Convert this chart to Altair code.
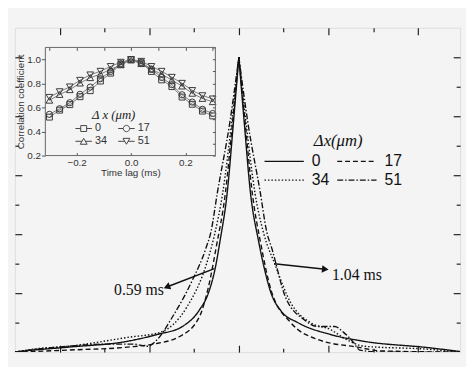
import altair as alt
import pandas as pd

# ---------------- main curves (time lag in ms, normalised value) ----------------
series_names = ["0", "17", "34", "51"]

x0 = [-2.5, -2.42, -1.9, -1.24, -0.91, -0.63, -0.44, -0.34, -0.26, -0.21, -0.13, -0.06, 0.0,
      0.06, 0.13, 0.22, 0.28, 0.36, 0.47, 0.66, 1.02, 1.39, 2.12, 2.47]
y0 = [0.0, 0.003, 0.017, 0.037, 0.06, 0.087, 0.143, 0.2, 0.29, 0.377, 0.54, 0.78, 1.0,
      0.78, 0.54, 0.377, 0.29, 0.2, 0.14, 0.1, 0.06, 0.037, 0.015, 0.002]

x17 = [-2.5, -1.9, -1.24, -0.96, -0.66, -0.44, -0.34, -0.25, -0.15, -0.07, 0.0,
       0.07, 0.15, 0.25, 0.36, 0.58, 0.88, 1.32, 1.6, 2.47]
y17 = [0.0, 0.007, 0.017, 0.027, 0.053, 0.12, 0.22, 0.36, 0.54, 0.78, 1.0,
       0.78, 0.54, 0.36, 0.21, 0.1, 0.043, 0.017, 0.004, 0.0]

x34 = [-2.5, -2.3, -1.9, -1.24, -0.88, -0.58, -0.36, -0.27, -0.18, -0.08, 0.0,
       0.08, 0.18, 0.28, 0.4, 0.58, 0.8, 1.02, 1.2, 1.4, 2.1, 2.47]
y34 = [0.0, 0.01, 0.02, 0.05, 0.067, 0.153, 0.3, 0.40, 0.54, 0.78, 1.0,
       0.78, 0.54, 0.40, 0.3, 0.167, 0.1, 0.077, 0.043, 0.02, 0.01, 0.0]

x51 = [-2.5, -2.34, -1.9, -1.54, -1.18, -1.02, -0.91, -0.74, -0.52, -0.37, -0.31, -0.24, -0.1, 0.0,
       0.1, 0.24, 0.31, 0.37, 0.52, 0.73, 0.88, 1.07, 1.17, 1.28, 1.35, 1.6, 2.47]
y51 = [0.0, 0.007, 0.02, 0.027, 0.027, 0.02, 0.043, 0.12, 0.243, 0.35, 0.41, 0.54, 0.78, 1.0,
       0.78, 0.54, 0.41, 0.35, 0.187, 0.11, 0.087, 0.087, 0.067, 0.033, 0.007, 0.0, 0.0]

dash_styles = [[1, 0], [5, 3], [1.5, 2], [6, 2, 1.5, 2]]

X_DOMAIN = [-2.5, 2.47]
Y_DOMAIN = [0, 1.1]
x_major = [-2, -1, 0, 1, 2]
x_minor = [-1.5, -0.5, 0.5, 1.5]
y_major = [0.2, 0.4, 0.6, 0.8, 1.0]
y_minor = [0.1, 0.3, 0.5, 0.7, 0.9]

# annotations
label_text = ["0.59 ms", "1.04 ms"]
label_x = [-1.115, 1.318]
label_y = [0.212, 0.26]
arrow_x = [-0.273, 0.396]
arrow_y = [0.283, 0.30]
arrow_x2 = [-0.804, 0.965]
arrow_y2 = [0.221, 0.281]
arrow_angle = [249, 96]

# ---------------- inset data ----------------
inset_t = [-0.3, -0.2625, -0.225, -0.1875, -0.15, -0.1125, -0.075, -0.0375, 0.0,
           0.0375, 0.075, 0.1125, 0.15, 0.1875, 0.225, 0.2625, 0.3]
c0 = [0.52, 0.578, 0.624, 0.69, 0.74, 0.82, 0.886, 0.96, 1.0, 0.97, 0.90, 0.83, 0.774, 0.687, 0.627, 0.57, 0.53]
c17 = [0.543, 0.59, 0.64, 0.71, 0.77, 0.84, 0.90, 0.965, 1.0, 0.975, 0.92, 0.85, 0.79, 0.706, 0.645, 0.585, 0.55]
c34 = [0.66, 0.708, 0.748, 0.803, 0.848, 0.878, 0.918, 0.955, 0.995, 0.965, 0.918, 0.878, 0.828, 0.778, 0.718, 0.675, 0.648]
c51 = [0.685, 0.732, 0.772, 0.827, 0.872, 0.902, 0.942, 0.977, 1.0, 0.985, 0.942, 0.902, 0.852, 0.802, 0.742, 0.699, 0.672]
inset_shapes = ["square", "circle", "triangle-up", "triangle-down"]
inset_sizes = [36, 40, 46, 46]
IX_DOMAIN = [-0.315, 0.31]
IY_DOMAIN = [0.2, 1.1]
ix_ticks = [-0.3, -0.2, -0.1, 0.0, 0.1, 0.2, 0.3]
ix_labels = [-0.2, 0.0, 0.2]
iy_labels = [0.2, 0.4, 0.6, 0.8, 1.0]
iy_ticks = [0.2, 0.3, 0.4, 0.5, 0.6, 0.7, 0.8, 0.9, 1.0, 1.1]

legend_paths = [
    "M-2.1,0L-0.75,0M0.75,0L2.1,0M-0.75,-0.75L0.75,-0.75L0.75,0.75L-0.75,0.75Z",
    "M-2.1,0L-0.8,0M0.8,0L2.1,0M0.8,0A0.8,0.8,0,1,1,-0.8,0A0.8,0.8,0,1,1,0.8,0Z",
    "M-2.1,0L-0.45,0M0.45,0L2.1,0M-0.875,0.75L0,-0.75L0.875,0.75Z",
    "M-2.1,0L-0.45,0M0.45,0L2.1,0M-0.875,-0.75L0.875,-0.75L0,0.75Z",
]

# ---------------- tables ----------------
rows = []
for name, xs_, ys_ in zip(series_names, [x0, x17, x34, x51], [y0, y17, y34, y51]):
    for i, (a, b) in enumerate(zip(xs_, ys_)):
        # each curve drawn as two monotone halves meeting at the sharp peak
        if a <= 0:
            rows.append({"series": name, "side": "L", "t": a, "r": b, "order": i})
        if a >= 0:
            rows.append({"series": name, "side": "R", "t": a, "r": b, "order": i})
main_df = pd.DataFrame(rows)

arrow_df = pd.DataFrame({"x": arrow_x, "y": arrow_y, "x2": arrow_x2, "y2": arrow_y2, "angle": arrow_angle})
label_df = pd.DataFrame({"label": label_text, "x": label_x, "y": label_y})

irows = []
for name, vals in zip(series_names, [c0, c17, c34, c51]):
    for t, v in zip(inset_t, vals):
        irows.append({"series": name, "t": t, "r": v})
inset_df = pd.DataFrame(irows)
frame_df = pd.DataFrame({"x": [IX_DOMAIN[0]], "x2": [IX_DOMAIN[1]], "y": [IY_DOMAIN[0]], "y2": [IY_DOMAIN[1]]})

W, H = 453, 330
INK = "#111111"


def tick_axis(orient, values, size):
    return alt.Axis(orient=orient, values=values, tickSize=size, offset=-size,
                    labels=False, domain=False, grid=False, title=None,
                    tickColor="#222222", tickWidth=1.2)


xs = alt.Scale(domain=X_DOMAIN, nice=False, zero=False)
ys = alt.Scale(domain=Y_DOMAIN, nice=False, zero=False)

curves = alt.Chart(main_df).mark_line(color=INK, strokeWidth=1.4, clip=True, interpolate="monotone").encode(
    x=alt.X("t:Q", scale=xs, axis=tick_axis("bottom", x_major, 7)),
    y=alt.Y("r:Q", scale=ys, axis=tick_axis("left", y_major, 7)),
    strokeDash=alt.StrokeDash(
        "series:N",
        scale=alt.Scale(domain=series_names, range=dash_styles),
        legend=alt.Legend(
            orient="none", legendX=265, legendY=107, direction="horizontal",
            title="Δx(μm)", titleFont="Liberation Serif", titleFontSize=17,
            titleFontStyle="italic", titleFontWeight="normal", titleColor=INK,
            titleAnchor="middle", titlePadding=3,
            columns=2, gridAlign="none", columnPadding=5, rowPadding=2,
            symbolType="M-2.5,0L2.5,0", symbolSize=256, symbolStrokeWidth=1.3,
            symbolStrokeColor=INK, labelFont="Liberation Sans", labelFontSize=16,
            labelColor=INK, labelOffset=19,
        ),
    ),
    detail="side:N",
    order=alt.Order("order:Q"),
)

arrows = alt.Chart(arrow_df).mark_rule(color=INK, strokeWidth=1.5).encode(
    x=alt.X("x:Q", scale=xs, axis=tick_axis("bottom", x_minor, 4)),
    y=alt.Y("y:Q", scale=ys, axis=tick_axis("left", y_minor, 4)),
    x2="x2:Q", y2="y2:Q",
)

texts = alt.Chart(label_df).mark_text(font="Liberation Serif", fontSize=16, color=INK).encode(
    x=alt.X("x:Q", scale=xs, axis=tick_axis("top", x_minor, 4)),
    y=alt.Y("y:Q", scale=ys, axis=tick_axis("right", y_minor, 4)),
    text="label:N",
)

heads = alt.Chart(arrow_df).mark_point(shape="triangle-up", filled=True, color=INK, size=60, opacity=1).encode(
    x=alt.X("x2:Q", scale=xs, axis=tick_axis("top", x_major, 7)),
    y=alt.Y("y2:Q", scale=ys, axis=tick_axis("right", y_major, 7)),
    angle=alt.Angle("angle:Q", scale=None),
)

main_group = alt.layer(curves, arrows, texts, heads).resolve_axis(x="independent", y="independent")

# ---------------- inset ----------------
ixs = alt.Scale(domain=IX_DOMAIN, range=[31, 204], nice=False, zero=False)
iys = alt.Scale(domain=IY_DOMAIN, range=[130, 20], nice=False, zero=False)

inset_lines = alt.Chart(inset_df).mark_line(color="#7a7a7a", strokeWidth=1).encode(
    x=alt.X("t:Q", scale=ixs, axis=alt.Axis(
        orient="bottom", values=ix_labels, format=".1f", tickSize=3, offset=-(H - 127),
        domain=False, grid=False, tickColor="#555555", labelFont="Liberation Sans",
        labelFontSize=10, labelColor="#333333", labelPadding=2,
        title="Time lag (ms)", titleFont="Liberation Sans", titleFontSize=10,
        titleFontWeight="normal", titleColor="#333333", titlePadding=0)),
    y=alt.Y("r:Q", scale=iys, axis=alt.Axis(
        orient="left", values=iy_labels, format=".1f", tickSize=4, offset=-31,
        domain=False, grid=False, tickColor="#555555", labelFont="Liberation Sans",
        labelFontSize=10, labelColor="#333333", labelPadding=1,
        title="Correlation coefficient", titleFont="Liberation Sans", titleFontSize=10,
        titleFontWeight="normal", titleColor="#333333", titlePadding=1)),
    detail="series:N",
)

point_layers = []
for name, shp, sz in zip(series_names, inset_shapes, inset_sizes):
    point_layers.append(
        alt.Chart(inset_df).transform_filter(alt.datum.series == name)
        .mark_point(shape=shp, filled=False, color="#3a3a3a", strokeWidth=1, size=sz, opacity=1)
        .encode(x=alt.X("t:Q", scale=ixs, axis=None), y=alt.Y("r:Q", scale=iys, axis=None))
    )

dummy = alt.Chart(inset_df).transform_filter("false").mark_point(
    filled=False, color="#444444", strokeWidth=1, opacity=1
).encode(
    x=alt.X("t:Q", scale=ixs, axis=None),
    y=alt.Y("r:Q", scale=iys, axis=None),
    shape=alt.Shape("series:N", scale=alt.Scale(domain=series_names, range=legend_paths),
                    legend=alt.Legend(
                        orient="none", legendX=64.5, legendY=83, direction="horizontal",
                        title="Δ x (μm)", titleFont="Liberation Serif", titleFontSize=13,
                        titleFontStyle="italic", titleFontWeight="normal", titleColor="#222222",
                        titleAnchor="middle", titlePadding=1,
                        columns=2, gridAlign="none", columnPadding=8.5, rowPadding=1,
                        symbolSize=64, symbolStrokeWidth=1, symbolStrokeColor="#444444",
                        labelFont="Liberation Sans", labelFontSize=11, labelColor="#333333",
                        labelOffset=6)),
)

frame = alt.Chart(frame_df).mark_rect(fillOpacity=0, stroke="#666666", strokeWidth=1).encode(
    x=alt.X("x:Q", scale=ixs, axis=alt.Axis(orient="top", values=ix_ticks, tickSize=3, offset=-23,
                                           labels=False, domain=False, grid=False, title=None,
                                           tickColor="#555555")),
    x2="x2:Q",
    y=alt.Y("y:Q", scale=iys, axis=alt.Axis(orient="right", values=iy_ticks, tickSize=3, offset=-(W - 201),
                                           labels=False, domain=False, grid=False, title=None,
                                           tickColor="#555555")),
    y2="y2:Q",
)

inset_group = alt.layer(inset_lines, *point_layers, dummy, frame).resolve_axis(x="independent", y="independent")

chart = alt.layer(main_group, inset_group).resolve_scale(
    x="independent", y="independent", shape="independent", strokeDash="independent"
).properties(
    width=W, height=H, background="#f4f4f4",
    padding={"left": 7, "top": 17, "right": 6, "bottom": 12},
    autosize=alt.AutoSizeParams(type="none"),
).configure_view(stroke="#222222", strokeWidth=1.2).configure(font="Liberation Sans")

chart.save("out.html", embed_options={"renderer": "svg", "actions": False})
